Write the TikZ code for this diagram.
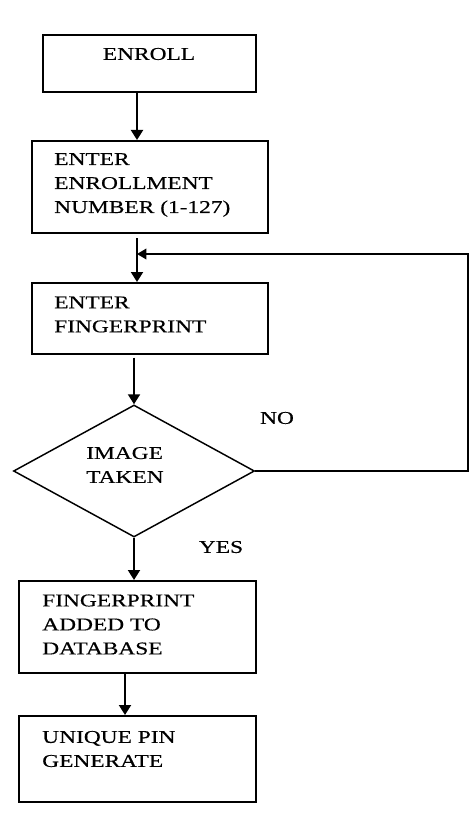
\documentclass[tikz,border=0pt]{standalone}
\usepackage{fontspec}
\setmainfont[FakeStretch=1.3,FakeBold=0.4]{Liberation Serif}
\usetikzlibrary{shapes.geometric,arrows.meta,fit}
\tikzset{
  box/.style={draw, line width=1.5pt, inner sep=0pt},
  txt/.style={inner sep=0pt, align=left, font=\fontsize{13.5}{18}\selectfont},
  lbl/.style={inner sep=0pt, font=\fontsize{13.5}{18}\selectfont},
  arr/.style={line width=1.5pt, -{Triangle[width=9pt,length=7.5pt]}},
  thin/.style={line width=1pt},
  decision/.style={diamond, draw, line width=1.1pt, inner sep=0pt, minimum width=180.75pt, minimum height=99pt}
}
\begin{document}
\begin{tikzpicture}[x=0.75pt,y=-0.75pt]
\useasboundingbox (0,0) rectangle (474,827);
% boxes
\node[box, fit={(43,35) (256,92)}] (b1) {};
\node[lbl] (t1) at (149,54) {ENROLL};
\node[box, fit={(32,141) (268,233)}] (b2) {};
\node[txt, anchor=west] (t2) at (54,185) {ENTER\\ENROLLMENT\\NUMBER (1-127)};
\node[box, fit={(32,283) (268,354)}] (b3) {};
\node[txt, anchor=west] (t3) at (54,314.5) {ENTER\\FINGERPRINT};
\node[decision] (d) at (134,471) {};
\node[txt, anchor=west] (td) at (86,465) {IMAGE\\TAKEN};
\node[box, fit={(19,581) (256,673)}] (b4) {};
\node[txt, anchor=west] (t4) at (42,624.5) {FINGERPRINT\\ADDED TO\\DATABASE};
\node[box, fit={(19,716) (256,802)}] (b5) {};
\node[txt, anchor=west] (t5) at (42,749) {UNIQUE PIN\\GENERATE};
\node[lbl] (no) at (277,418) {NO};
\node[lbl] (yes) at (221,547) {YES};
% helper coordinates
\coordinate (xa) at (137,0);
\coordinate (xc) at (125,0);
\coordinate (loopR) at (468,254);
\coordinate (loopL) at (137,254);
% connectors
\draw[arr] (b1.south -| xa) -- (b2.north -| xa);
\draw[arr, shorten <=3pt] (b2.south -| xa) -- (b3.north -| xa);
\draw[arr, shorten <=2pt] (b3.south -| d.north) -- (d.north);
\draw[arr] (d.south) -- (b4.north -| d.south);
\draw[arr] (b4.south -| xc) -- (b5.north -| xc);
\draw[thin, -{Triangle[width=8pt,length=7pt]}] (d.east) -- (d.east -| loopR) -- (loopR) -- (loopL);
\end{tikzpicture}
\end{document}
